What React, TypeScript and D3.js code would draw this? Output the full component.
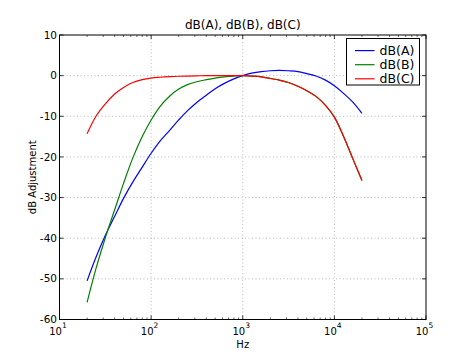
import React from "react";
import * as d3 from "d3";

const freqs = [20, 25, 31.5, 40, 50, 63, 80, 100, 125, 160, 200, 250, 315, 400, 500, 630, 800, 1000, 1250, 1600, 2000, 2500, 3150, 4000, 5000, 6300, 8000, 10000, 12500, 16000, 20000];
const dbA = [-50.5, -44.7, -39.4, -34.6, -30.2, -26.2, -22.5, -19.1, -16.1, -13.4, -10.9, -8.6, -6.6, -4.8, -3.2, -1.9, -0.8, 0, 0.6, 1.0, 1.2, 1.3, 1.2, 1.0, 0.5, -0.1, -1.1, -2.5, -4.3, -6.6, -9.3];
const dbB = [-55.8, -47.5, -40.0, -33.0, -26.5, -20.3, -15.0, -10.9, -7.6, -5.0, -3.3, -2.2, -1.5, -1.0, -0.6, -0.3, -0.1, 0, -0.1, -0.3, -0.7, -1.1, -1.7, -2.6, -3.7, -5.1, -7.3, -10.2, -14.8, -20.6, -25.8];
const dbC = [-14.3, -10.0, -7.0, -4.5, -2.9, -1.7, -1.0, -0.6, -0.4, -0.25, -0.15, -0.1, -0.05, 0, 0, 0, 0, 0, -0.1, -0.3, -0.7, -1.1, -1.7, -2.6, -3.7, -5.1, -7.3, -10.2, -14.8, -20.6, -25.8];

const seriesNames = ["dB(A)", "dB(B)", "dB(C)"];
const seriesData = [dbA, dbB, dbC];
const seriesColors = ["#0000ff", "#008000", "#ff0000"];

const xTickExps = [1, 2, 3, 4, 5];
const yTicks = [10, 0, -10, -20, -30, -40, -50, -60];

const W = 474, H = 355;
const L = 59.5, R = 426, T = 35, B = 319.5;
const FONT = "DejaVu Sans, sans-serif";

export default function App() {
  const x = d3.scaleLog().domain([10, 100000]).range([L, R]);
  const y = d3.scaleLinear().domain([-60, 10]).range([B, T]);

  const line = d3
    .line<[number, number]>()
    .x((d) => x(d[0]))
    .y((d) => y(d[1]))
    .curve(d3.curveCatmullRom.alpha(0.5));

  const minor: number[] = [];
  for (let e = 1; e < 5; e++) for (let m = 2; m <= 9; m++) minor.push(m * Math.pow(10, e));

  const gridStyle = { stroke: "#a8a8a8", strokeWidth: 0.8, strokeDasharray: "1,2.5" };

  return (
    <svg width={W} height={H} style={{ position: "absolute", left: 0, top: 0, background: "#fff" }} fontFamily={FONT}>
      <rect x={0} y={0} width={W} height={H} fill="#fff" />
      {xTickExps.slice(1, -1).map((e) => (
        <line key={"gx" + e} x1={x(Math.pow(10, e))} x2={x(Math.pow(10, e))} y1={T} y2={B} {...gridStyle} />
      ))}
      {yTicks.slice(1, -1).map((v) => (
        <line key={"gy" + v} x1={L} x2={R} y1={y(v)} y2={y(v)} {...gridStyle} />
      ))}
      <defs>
        <clipPath id="clip">
          <rect x={L} y={T} width={R - L} height={B - T} />
        </clipPath>
      </defs>
      <g clipPath="url(#clip)">
        {seriesData.map((vals, i) => (
          <path
            key={seriesNames[i]}
            d={line(freqs.map((f, j) => [f, vals[j]] as [number, number])) || ""}
            fill="none"
            stroke={seriesColors[i]}
            strokeWidth={1.2}
          />
        ))}
      </g>
      {xTickExps.map((e) => {
        const px = x(Math.pow(10, e));
        return (
          <g key={"xt" + e}>
            <line x1={px} x2={px} y1={B} y2={B - 4} stroke="#000" strokeWidth={0.8} />
            <line x1={px} x2={px} y1={T} y2={T + 4} stroke="#000" strokeWidth={0.8} />
            <text x={px - 1.5} y={335} textAnchor="middle" fontSize={10} fill="#000">
              10<tspan dy={-7} fontSize={7.5}>{e}</tspan>
            </text>
          </g>
        );
      })}
      {minor.map((m) => {
        const px = x(m);
        return (
          <g key={"mx" + m}>
            <line x1={px} x2={px} y1={B} y2={B - 2} stroke="#000" strokeWidth={0.6} />
            <line x1={px} x2={px} y1={T} y2={T + 2} stroke="#000" strokeWidth={0.6} />
          </g>
        );
      })}
      {yTicks.map((v) => {
        const py = y(v);
        return (
          <g key={"yt" + v}>
            <line x1={L} x2={L + 4} y1={py} y2={py} stroke="#000" strokeWidth={0.8} />
            <line x1={R} x2={R - 4} y1={py} y2={py} stroke="#000" strokeWidth={0.8} />
            <text x={57} y={py + 3.6} textAnchor="end" fontSize={10.5} fill="#000">
              {String(v)}
            </text>
          </g>
        );
      })}
      <rect x={L} y={T} width={R - L} height={B - T} fill="none" stroke="#000" strokeWidth={1} />
      <text x={(L + R) / 2} y={28.5} textAnchor="middle" fontSize={12} fill="#000">
        dB(A), dB(B), dB(C)
      </text>
      <text x={(L + R) / 2} y={347.7} textAnchor="middle" fontSize={10} fill="#000">
        Hz
      </text>
      <text
        transform={`translate(36.2, ${(T + B) / 2}) rotate(-90)`}
        textAnchor="middle"
        fontSize={10}
        fill="#000"
      >
        dB Adjustment
      </text>
      <rect x={346.5} y={38.5} width={73} height={46.5} fill="#fff" stroke="#000" strokeWidth={1} />
      {seriesNames.map((n, i) => {
        const ly = 50.6 + i * 14.1;
        return (
          <g key={"lg" + n}>
            <line x1={355} x2={374.5} y1={ly} y2={ly} stroke={seriesColors[i]} strokeWidth={1.2} />
            <text x={379.5} y={ly + 4} fontSize={12.5} fill="#000">
              {n}
            </text>
          </g>
        );
      })}
    </svg>
  );
}
